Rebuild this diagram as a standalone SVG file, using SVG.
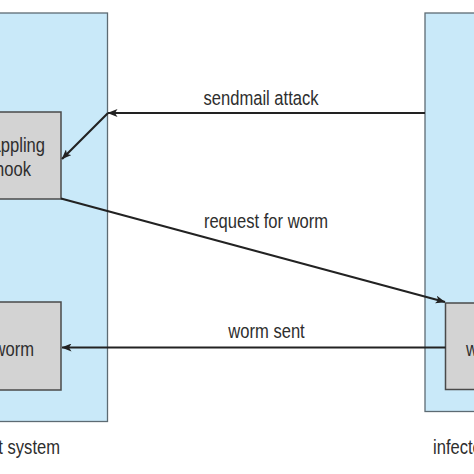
<svg xmlns="http://www.w3.org/2000/svg" width="474" height="474" viewBox="0 0 474 474">
<style>
.panel{fill:#c9e9f9;stroke:#5d6b73;stroke-width:1.3}
.box{fill:#d3d3d3;stroke:#4a4a4a;stroke-width:1.5}
.t{font-family:"Liberation Sans",Arial,sans-serif;font-size:19.5px;fill:#2e2e2e}
.c{stroke:#222;stroke-width:2.2;fill:none}
</style>
<defs>
<marker id="ah" viewBox="0 0 10 8" refX="9.5" refY="4" markerWidth="10" markerHeight="8" markerUnits="userSpaceOnUse" orient="auto">
<path d="M0,0 L10,4 L0,8 L2.5,4 Z" fill="#222"/>
</marker>
</defs>
<g id="target-system">
<rect class="panel" x="-2" y="13" width="109.5" height="408.5"/>
<text class="t" transform="translate(60,453.5) scale(0.85,1)" text-anchor="end">target system</text>
</g>
<g id="infected-system">
<rect class="panel" x="425" y="13" width="52" height="398.5"/>
<text class="t" transform="translate(433,453.5) scale(0.85,1)">infected system</text>
</g>
<g id="grappling-hook">
<rect class="box" x="-2" y="112" width="63" height="87"/>
<text class="t" transform="translate(45,152) scale(0.85,1)" text-anchor="end">grappling</text>
<text class="t" transform="translate(31,175.5) scale(0.85,1)" text-anchor="end">hook</text>
</g>
<g id="worm-target">
<rect class="box" x="-2" y="302" width="63" height="88"/>
<text class="t" transform="translate(34,355.5) scale(0.85,1)" text-anchor="end">worm</text>
</g>
<g id="worm-infected">
<rect class="box" x="445.5" y="303" width="32" height="86.5"/>
<text class="t" transform="translate(466,355.5) scale(0.85,1)">worm</text>
</g>
<g id="connectors">
<line class="c" x1="425" y1="113" x2="108" y2="113" marker-end="url(#ah)"/>
<line class="c" x1="108" y1="113" x2="62" y2="159" marker-end="url(#ah)"/>
<line class="c" x1="61" y1="198.5" x2="445" y2="302" marker-end="url(#ah)"/>
<line class="c" x1="445.5" y1="347.5" x2="62" y2="347.5" marker-end="url(#ah)"/>
<text class="t" transform="translate(261,105) scale(0.85,1)" text-anchor="middle">sendmail attack</text>
<text class="t" transform="translate(266,227.5) scale(0.85,1)" text-anchor="middle">request for worm</text>
<text class="t" transform="translate(266.5,337.5) scale(0.85,1)" text-anchor="middle">worm sent</text>
</g>
</svg>
